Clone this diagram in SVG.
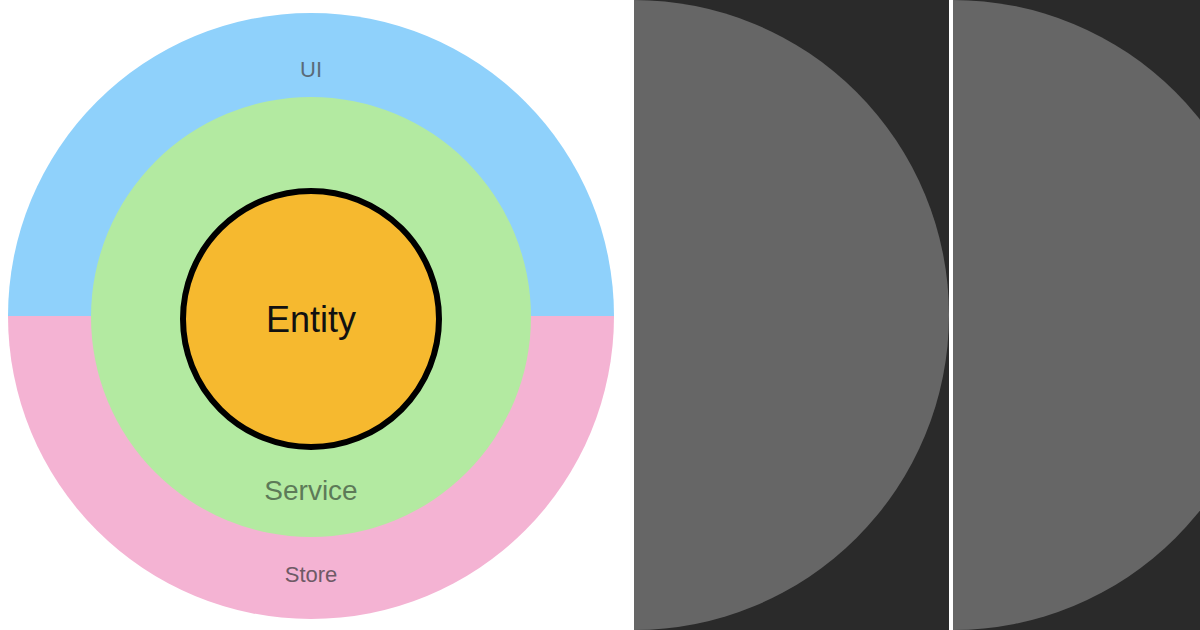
<svg xmlns="http://www.w3.org/2000/svg" width="1200" height="630" viewBox="0 0 1200 630">
<style>
.lbl{font-family:"Helvetica Neue","Liberation Sans",Arial,sans-serif;text-anchor:middle}
</style>
<defs><clipPath id="c2"><rect x="953" y="0" width="247" height="630"/></clipPath></defs>
<rect width="1200" height="630" fill="#fff"/>
<g id="ui"><path d="M8,316 A303,303 0 0 1 614,316 Z" fill="#8fd1fb"/><text class="lbl" x="311" y="77" font-size="22" fill="#5a6b78">UI</text></g>
<g id="store"><path d="M8,316 A303,303 0 0 0 614,316 Z" fill="#f4b3d3"/><text class="lbl" x="311" y="582" font-size="22" fill="#6e5a66">Store</text></g>
<g id="service"><circle cx="311" cy="317" r="220" fill="#b3eaa1"/><text class="lbl" x="311" y="500" font-size="28" fill="#5d7a58">Service</text></g>
<g id="entity"><circle cx="311" cy="319" r="128" fill="#f6b92f" stroke="#000" stroke-width="6"/><text class="lbl" x="311" y="332" font-size="36" fill="#111">Entity</text></g>
<g id="panels">
<rect x="634" y="0" width="566" height="630" fill="#2a2a2a"/>
<rect x="949" y="0" width="4" height="630" fill="#fff"/>
<path d="M634,0 A315,315 0 0 1 634,630 Z" fill="#666" transform="translate(0,0)"/>
<circle cx="953" cy="315" r="315" fill="#666" clip-path="url(#c2)"/>
</g>
<g id="connectors"/>
</svg>
